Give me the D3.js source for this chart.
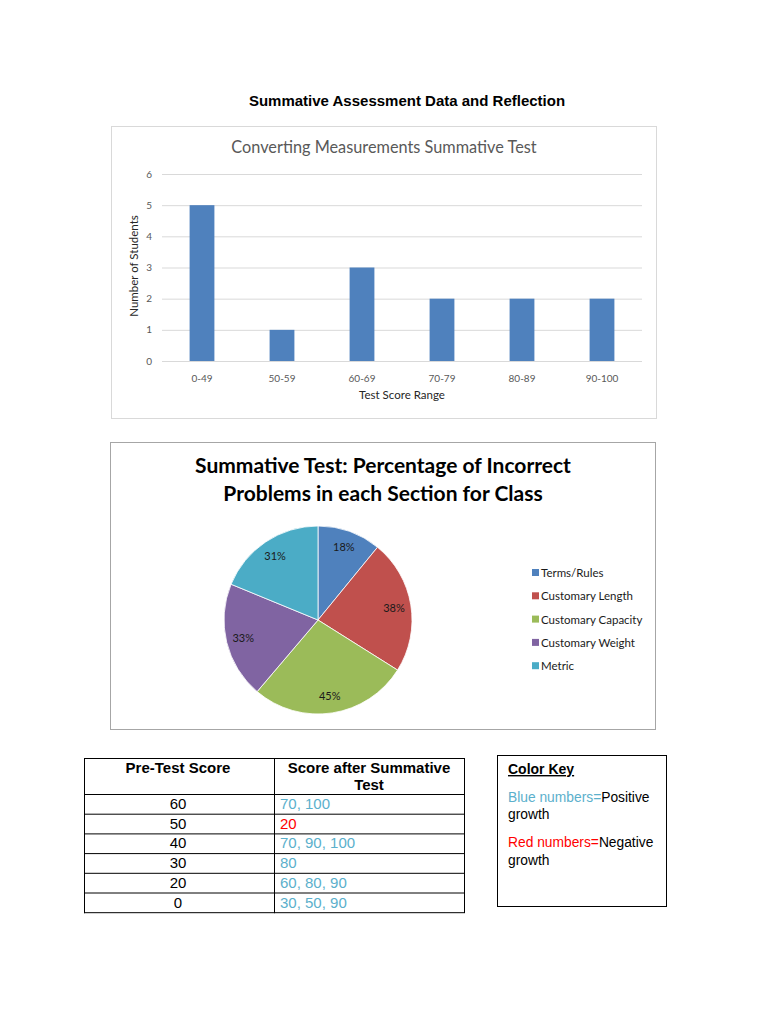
<!DOCTYPE html>
<html><head><meta charset="utf-8">
<script src="https://cdn.jsdelivr.net/npm/d3@7"></script>
<style>body{margin:0;background:#fff}svg{display:block}</style>
</head><body>
<svg id="c" width="768" height="1024"></svg>
<script>
// ---- data ----
const scoreRanges = ["0-49","50-59","60-69","70-79","80-89","90-100"];
const studentCounts = [5,1,3,2,2,2];
const yTicks = [0,1,2,3,4,5,6];
const sections = ["Terms/Rules","Customary Length","Customary Capacity","Customary Weight","Metric"];
const incorrectPct = [18,38,45,33,31];
const sectionColors = ["#4F81BD","#C0504D","#9BBB59","#8064A2","#4BACC6"];
const preTestScores = ["60","50","40","30","20","0"];
const postTestScores = ["70, 100","20","70, 90, 100","80","60, 80, 90","30, 50, 90"];
const growthType = ["pos","neg","pos","pos","pos","pos"];

const svg = d3.select("#c");
const arial = "'Liberation Sans', Arial, sans-serif";
const cal = "Lato, 'Open Sans', sans-serif";

// page title
svg.append("text").attr("x",407).attr("y",106).attr("text-anchor","middle")
  .attr("font-family",arial).attr("font-weight","bold").attr("font-size",15).text("Summative Assessment Data and Reflection");

// ---- bar chart ----
const b = svg.append("g");
b.append("rect").attr("x",111.5).attr("y",126.5).attr("width",545).attr("height",292)
  .attr("fill","#fff").attr("stroke","#d9d9d9");
b.append("text").attr("x",384).attr("y",153).attr("text-anchor","middle")
  .attr("font-family",cal).attr("font-size",16.3).attr("fill","#595959").text("Converting Measurements Summative Test");
const x = d3.scaleBand().domain(scoreRanges).range([162,642]).paddingInner(0.69).paddingOuter(0.345);
const y = d3.scaleLinear().domain([0,6]).range([361,174]);
b.selectAll(".grid").data(yTicks).join("line")
  .attr("x1",162).attr("x2",642).attr("y1",d=>y(d)+0.5).attr("y2",d=>y(d)+0.5)
  .attr("stroke","#d9d9d9").attr("stroke-width",1);
b.selectAll(".yl").data(yTicks).join("text")
  .attr("x",152).attr("y",d=>y(d)+3.5).attr("text-anchor","end")
  .attr("font-family",cal).attr("font-size",10).attr("fill","#595959").text(d=>d);
b.selectAll(".bar").data(studentCounts).join("rect")
  .attr("x",(d,i)=>x(scoreRanges[i])).attr("width",x.bandwidth())
  .attr("y",d=>y(d)).attr("height",d=>y(0)-y(d)).attr("fill","#4F81BD");
b.selectAll(".xl").data(scoreRanges).join("text")
  .attr("x",d=>x(d)+x.bandwidth()/2).attr("y",382).attr("text-anchor","middle")
  .attr("font-family",cal).attr("font-size",10).attr("fill","#595959").text(d=>d);
b.append("text").attr("x",402).attr("y",399).attr("text-anchor","middle")
  .attr("font-family",cal).attr("font-size",11.5).attr("fill","#262626").text("Test Score Range");
b.append("text").attr("transform","translate(138,266) rotate(-90)").attr("text-anchor","middle")
  .attr("font-family",cal).attr("font-size",11.5).attr("fill","#262626").text("Number of Students");

// ---- pie chart ----
const p = svg.append("g");
p.append("rect").attr("x",110.5).attr("y",442.5).attr("width",545).attr("height",287)
  .attr("fill","#fff").attr("stroke","#a6a6a6");
p.append("text").attr("x",383).attr("y",473).attr("text-anchor","middle")
  .attr("font-family",cal).attr("font-weight","bold").attr("font-size",21).text("Summative Test: Percentage of Incorrect");
p.append("text").attr("x",383).attr("y",501).attr("text-anchor","middle")
  .attr("font-family",cal).attr("font-weight","bold").attr("font-size",21).text("Problems in each Section for Class");
const pieData = d3.pie().sort(null)(incorrectPct);
const arc = d3.arc().innerRadius(0).outerRadius(94);
const labelArc = d3.arc().innerRadius(77).outerRadius(77);
const pg = p.append("g").attr("transform","translate(318,620)");
pg.selectAll("path").data(pieData).join("path").attr("d",arc)
  .attr("fill",(d,i)=>sectionColors[i]).attr("stroke","#fff").attr("stroke-width",0.8);
pg.selectAll(".pl").data(pieData).join("text")
  .attr("transform",d=>{const c=labelArc.centroid(d);return `translate(${c[0]},${c[1]+4})`;})
  .attr("text-anchor","middle").attr("font-family",cal).attr("font-size",11).attr("fill","#1a1a1a")
  .text(d=>d.data+"%");
const lg = p.append("g");
sections.forEach((s,i)=>{
  const yy = 573 + i*23.3;
  lg.append("rect").attr("x",532).attr("y",yy-4).attr("width",7).attr("height",7).attr("fill",sectionColors[i]);
  lg.append("text").attr("x",541).attr("y",yy+4).attr("font-family",cal).attr("font-size",11.5).attr("fill","#1a1a1a").text(s);
});

// ---- table ----
const t = svg.append("g");
const tx0=84, tx1=274, tx2=464;
const rowY = [758,794];
preTestScores.forEach((d,i)=>rowY.push(794+(i+1)*19.7));
t.selectAll(".hl").data(rowY).join("line").attr("x1",tx0).attr("x2",tx2)
  .attr("y1",d=>d+0.5).attr("y2",d=>d+0.5).attr("stroke","#000");
[tx0,tx1,tx2].forEach(xx=>t.append("line").attr("x1",xx+0.5).attr("x2",xx+0.5)
  .attr("y1",758).attr("y2",rowY[rowY.length-1]+1).attr("stroke","#000"));
t.append("text").attr("x",178).attr("y",773).attr("text-anchor","middle").attr("font-family",arial)
  .attr("font-weight","bold").attr("font-size",15).text("Pre-Test Score");
t.append("text").attr("x",369).attr("y",773).attr("text-anchor","middle").attr("font-family",arial)
  .attr("font-weight","bold").attr("font-size",15).text("Score after Summative");
t.append("text").attr("x",369).attr("y",790).attr("text-anchor","middle").attr("font-family",arial)
  .attr("font-weight","bold").attr("font-size",15).text("Test");
preTestScores.forEach((d,i)=>{
  const yy = rowY[i+1]+15;
  t.append("text").attr("x",178).attr("y",yy).attr("text-anchor","middle").attr("font-family",arial)
    .attr("font-size",15).text(d);
  t.append("text").attr("x",280).attr("y",yy).attr("font-family",arial).attr("font-size",15)
    .attr("fill",growthType[i]==="pos"?"#5BB0CC":"#FF0000").text(postTestScores[i]);
});

// color key
const k = svg.append("g");
k.append("rect").attr("x",497.5).attr("y",755.5).attr("width",169).attr("height",151).attr("fill","none").attr("stroke","#000");
k.append("text").attr("x",508).attr("y",774).attr("font-family",arial).attr("font-weight","bold")
  .attr("font-size",14).attr("text-decoration","underline").text("Color Key");
const l1 = k.append("text").attr("x",508).attr("y",802).attr("font-family",arial).attr("font-size",13.8);
l1.append("tspan").attr("fill","#5BB0CC").text("Blue numbers=");
l1.append("tspan").attr("fill","#000").text("Positive");
k.append("text").attr("x",508).attr("y",819).attr("font-family",arial).attr("font-size",13.8).text("growth");
const l2 = k.append("text").attr("x",508).attr("y",847).attr("font-family",arial).attr("font-size",13.8);
l2.append("tspan").attr("fill","#FF0000").text("Red numbers=");
l2.append("tspan").attr("fill","#000").text("Negative");
k.append("text").attr("x",508).attr("y",865).attr("font-family",arial).attr("font-size",13.8).text("growth");
</script>
</body></html>
